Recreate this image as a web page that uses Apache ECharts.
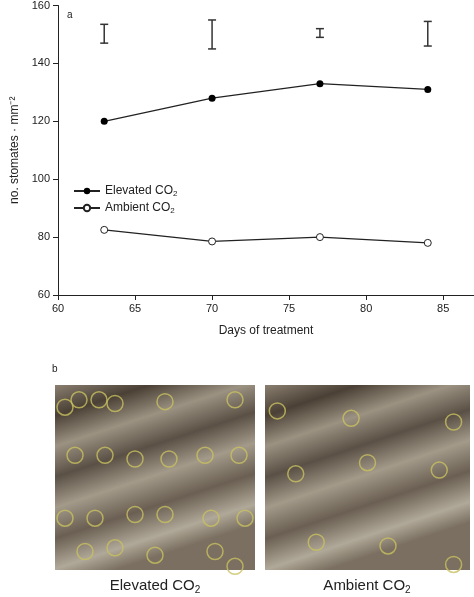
<!DOCTYPE html>
<html>
<head>
<meta charset="utf-8">
<script src="https://cdn.jsdelivr.net/npm/echarts@6/dist/echarts.min.js"></script>
<style>html,body{margin:0;padding:0;background:#fff}#main{width:474px;height:597px}</style>
</head>
<body>
<div id="main"></div>
<script>
var days = [63, 70, 77, 84];
var elevated = [120, 128, 133, 131];
var ambient = [82.5, 78.5, 80, 78];
var errLow = [147, 145, 149, 146];
var errHigh = [153.5, 155, 152, 154.5];

// stomata circle positions in the micrographs (percent of image)
var elevatedStomata = [[5,88],[12,92],[22,92],[30,90],[55,91],[90,92],[10,62],[25,62],[40,60],[57,60],[75,62],[92,62],
  [5,28],[20,28],[40,30],[55,30],[78,28],[95,28],[15,10],[30,12],[50,8],[80,10],[90,2]];
var ambientStomata = [[6,86],[42,82],[92,80],[15,52],[50,58],[85,54],[25,15],[60,13],[92,3]];

var chart = echarts.init(document.getElementById('main'));

function photo(x, w) {
  return {
    type: 'rect', z: 0,
    shape: {x: x, y: 385, width: w, height: 185},
    style: {
      fill: new echarts.graphic.LinearGradient(0, 0, 0.3, 1, [
        {offset: 0, color: '#8a7f70'}, {offset: 0.15, color: '#4a4035'},
        {offset: 0.3, color: '#9c9282'}, {offset: 0.45, color: '#5a5045'},
        {offset: 0.6, color: '#a39a8a'}, {offset: 0.75, color: '#6a5f52'},
        {offset: 0.9, color: '#b0a898'}, {offset: 1, color: '#7a6f60'}
      ])
    }
  };
}

var stomataStyle = {color: 'rgba(0,0,0,0)', borderColor: '#c8c060', borderWidth: 1.5};

chart.setOption({
  animation: false,
  textStyle: {fontFamily: 'Arial, Liberation Sans, sans-serif'},
  grid: [
    {left: 58, top: 5, right: 0, height: 290},
    {left: 55, top: 385, width: 200, height: 185, show: false},
    {left: 265, top: 385, width: 205, height: 185, show: false}
  ],
  legend: {
    data: ['Elevated', 'Ambient'],
    orient: 'vertical', left: 68, top: 180, itemGap: 4,
    itemWidth: 26, itemHeight: 8,
    textStyle: {fontSize: 12, color: '#222', rich: {sub: {fontSize: 8, verticalAlign: 'bottom', padding: [6, 0, 0, 0]}}},
    formatter: function (n) { return n + ' CO{sub|2}'; }
  },
  xAxis: [
    {gridIndex: 0, type: 'value', min: 60, max: 87, interval: 5,
      name: 'Days of treatment', nameLocation: 'middle', nameGap: 30,
      nameTextStyle: {fontSize: 12, color: '#222'},
      axisLine: {lineStyle: {color: '#222'}}, axisTick: {lineStyle: {color: '#222'}},
      axisLabel: {fontSize: 11, color: '#222', showMaxLabel: false}, splitLine: {show: false}},
    {gridIndex: 1, type: 'value', min: 0, max: 100, show: false},
    {gridIndex: 2, type: 'value', min: 0, max: 100, show: false}
  ],
  yAxis: [
    {gridIndex: 0, type: 'value', min: 60, max: 160, interval: 20,
      name: 'no. stomates · mm⁻²', nameLocation: 'middle', nameGap: 36,
      nameTextStyle: {fontSize: 12, color: '#222'},
      axisLine: {show: true, lineStyle: {color: '#222'}}, axisTick: {show: true, lineStyle: {color: '#222'}},
      axisLabel: {fontSize: 11, color: '#222'}, splitLine: {show: false}},
    {gridIndex: 1, type: 'value', min: 0, max: 100, show: false},
    {gridIndex: 2, type: 'value', min: 0, max: 100, show: false}
  ],
  graphic: [
    {type: 'text', left: 67, top: 10, style: {text: 'a', fontSize: 10, fill: '#222'}},
    {type: 'text', left: 52, top: 364, style: {text: 'b', fontSize: 10, fill: '#222'}},
    photo(55, 200),
    photo(265, 205),
    {type: 'text', x: 155, y: 577, style: {text: 'Elevated CO{s|2}', align: 'center', fontSize: 15, fill: '#222',
      rich: {s: {fontSize: 10, verticalAlign: 'bottom', padding: [8, 0, 0, 0]}}}},
    {type: 'text', x: 367, y: 577, style: {text: 'Ambient CO{s|2}', align: 'center', fontSize: 15, fill: '#222',
      rich: {s: {fontSize: 10, verticalAlign: 'bottom', padding: [8, 0, 0, 0]}}}}
  ],
  series: [
    {name: 'Elevated', type: 'line', data: days.map(function (d, i) { return [d, elevated[i]]; }),
      symbol: 'circle', symbolSize: 7, itemStyle: {color: '#000'}, lineStyle: {color: '#222', width: 1.2}},
    {name: 'Ambient', type: 'line', data: days.map(function (d, i) { return [d, ambient[i]]; }),
      symbol: 'circle', symbolSize: 7, itemStyle: {color: '#fff', borderColor: '#222', borderWidth: 1},
      lineStyle: {color: '#222', width: 1.2}},
    {type: 'custom', data: days.map(function (d, i) { return [d, errLow[i], errHigh[i]]; }),
      renderItem: function (params, api) {
        var lo = api.coord([api.value(0), api.value(1)]);
        var hi = api.coord([api.value(0), api.value(2)]);
        var s = {stroke: '#333', lineWidth: 1.5};
        return {type: 'group', children: [
          {type: 'line', shape: {x1: lo[0], y1: lo[1], x2: hi[0], y2: hi[1]}, style: s},
          {type: 'line', shape: {x1: lo[0] - 4, y1: lo[1], x2: lo[0] + 4, y2: lo[1]}, style: s},
          {type: 'line', shape: {x1: hi[0] - 4, y1: hi[1], x2: hi[0] + 4, y2: hi[1]}, style: s}
        ]};
      }},
    {type: 'scatter', xAxisIndex: 1, yAxisIndex: 1, z: 5, data: elevatedStomata, symbolSize: 16, itemStyle: stomataStyle, silent: true},
    {type: 'scatter', xAxisIndex: 2, yAxisIndex: 2, z: 5, data: ambientStomata, symbolSize: 16, itemStyle: stomataStyle, silent: true}
  ]
});
</script>
</body>
</html>
